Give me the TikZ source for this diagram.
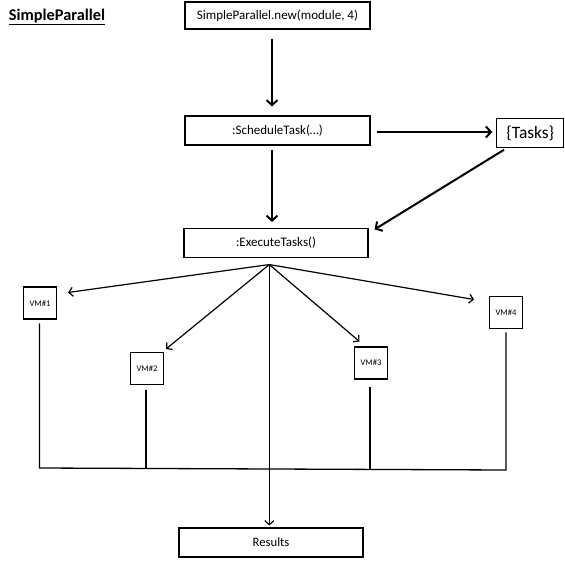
\documentclass[tikz,border=0pt]{standalone}
\usepackage{fontspec}
\setmainfont{Carlito}
\usetikzlibrary{arrows.meta}
\begin{document}
\begin{tikzpicture}[x=1pt,y=-1pt,
  box/.style={draw,line width=1.1pt,inner sep=0pt,font=\fontsize{13}{15}\selectfont},
  vmbox/.style={draw,line width=1.5pt,minimum width=33pt,minimum height=32pt,inner sep=0pt,font=\fontsize{8.6}{10}\selectfont},
  bigarr/.style={line width=2pt,-{Straight Barb[length=5pt,width=11pt,line width=2pt]}},
  fanarr/.style={line width=1.2pt,-{Straight Barb[length=4pt,width=9pt,line width=1.2pt]}},
  wire/.style={line width=1.3pt}]
\useasboundingbox (0,0) rectangle (565,562);
\node[font=\bfseries\fontsize{16.3}{19}\selectfont] (title) at (57,17) {\underline{SimpleParallel}};
\node[box,minimum width=185pt,minimum height=27pt] (b1) at (277.5,15.5) {SimpleParallel.new(module, 4)};
\node[box,minimum width=185pt,minimum height=29pt] (b2) at (277.5,130.5) {:ScheduleTask(…)};
\node[box,minimum width=67pt,minimum height=29.5pt,font=\fontsize{17.4}{20}\selectfont] (tasks) at (530.3,133) {\{Tasks\}};
\node[box,minimum width=184pt,minimum height=29pt] (b3) at (276,243) {:ExecuteTasks()};
\node[vmbox] (vm1) at (40,303.2) {VM\#1};
\node[vmbox] (vm2) at (147,368.5) {VM\#2};
\node[vmbox] (vm3) at (371,362.8) {VM\#3};
\node[vmbox] (vm4) at (506,312.5) {VM\#4};
\node[box,minimum width=184pt,minimum height=29pt,font=\fontsize{12.7}{15}\selectfont] (res) at (271,542.5) {Results};
% main arrows
\draw[bigarr,shorten <=9pt,shorten >=9pt] ([xshift=-5.5pt]b1.south) -- ([xshift=-5.5pt]b2.north);
\draw[bigarr,shorten <=4pt,shorten >=6pt] ([xshift=-5.5pt]b2.south) -- ([xshift=-5.5pt]b2.south |- b3.north);
\draw[bigarr,shorten <=6pt,shorten >=4pt] ([yshift=-1.5pt]b2.east) -- ([yshift=-1.5pt]b2.east -| tasks.west);
\draw[bigarr] ([xshift=-26.3pt,yshift=-1.5pt]tasks.south) -- ([xshift=6pt,yshift=-1.5pt]b3.north east);
% fan out
\coordinate (fan) at ([xshift=-6.7pt,yshift=-6.5pt]b3.south);
\coordinate (t1) at (68,292.5);
\coordinate (t2) at (166,349);
\coordinate (t3) at (359.5,341.5);
\coordinate (t4) at (474,299.5);
\draw[fanarr] (fan) -- (t1);
\draw[fanarr] (fan) -- (t2);
\draw[fanarr] (fan) -- (t3);
\draw[fanarr] (fan) -- (t4);
\draw[fanarr,shorten >=2pt] (fan) -- (fan |- res.north);
% collecting wires
\coordinate (j1) at ([xshift=-0.5pt]vm1.south |- 0,468);
\coordinate (j2) at ([xshift=-1pt]vm2.south |- 0,468.5);
\coordinate (j3) at ([xshift=-1pt]vm3.south |- 0,469.6);
\coordinate (j4) at (vm4.south |- 0,470);
\draw[wire] ([xshift=-0.5pt,yshift=-3.5pt]vm1.south) -- (j1) -- (j4) -- ([yshift=-3pt]vm4.south);
\draw[wire] ([xshift=-1pt,yshift=-5pt]vm2.south) -- (j2);
\draw[wire] ([xshift=-1pt,yshift=-7.5pt]vm3.south) -- (j3);
\end{tikzpicture}
\end{document}
